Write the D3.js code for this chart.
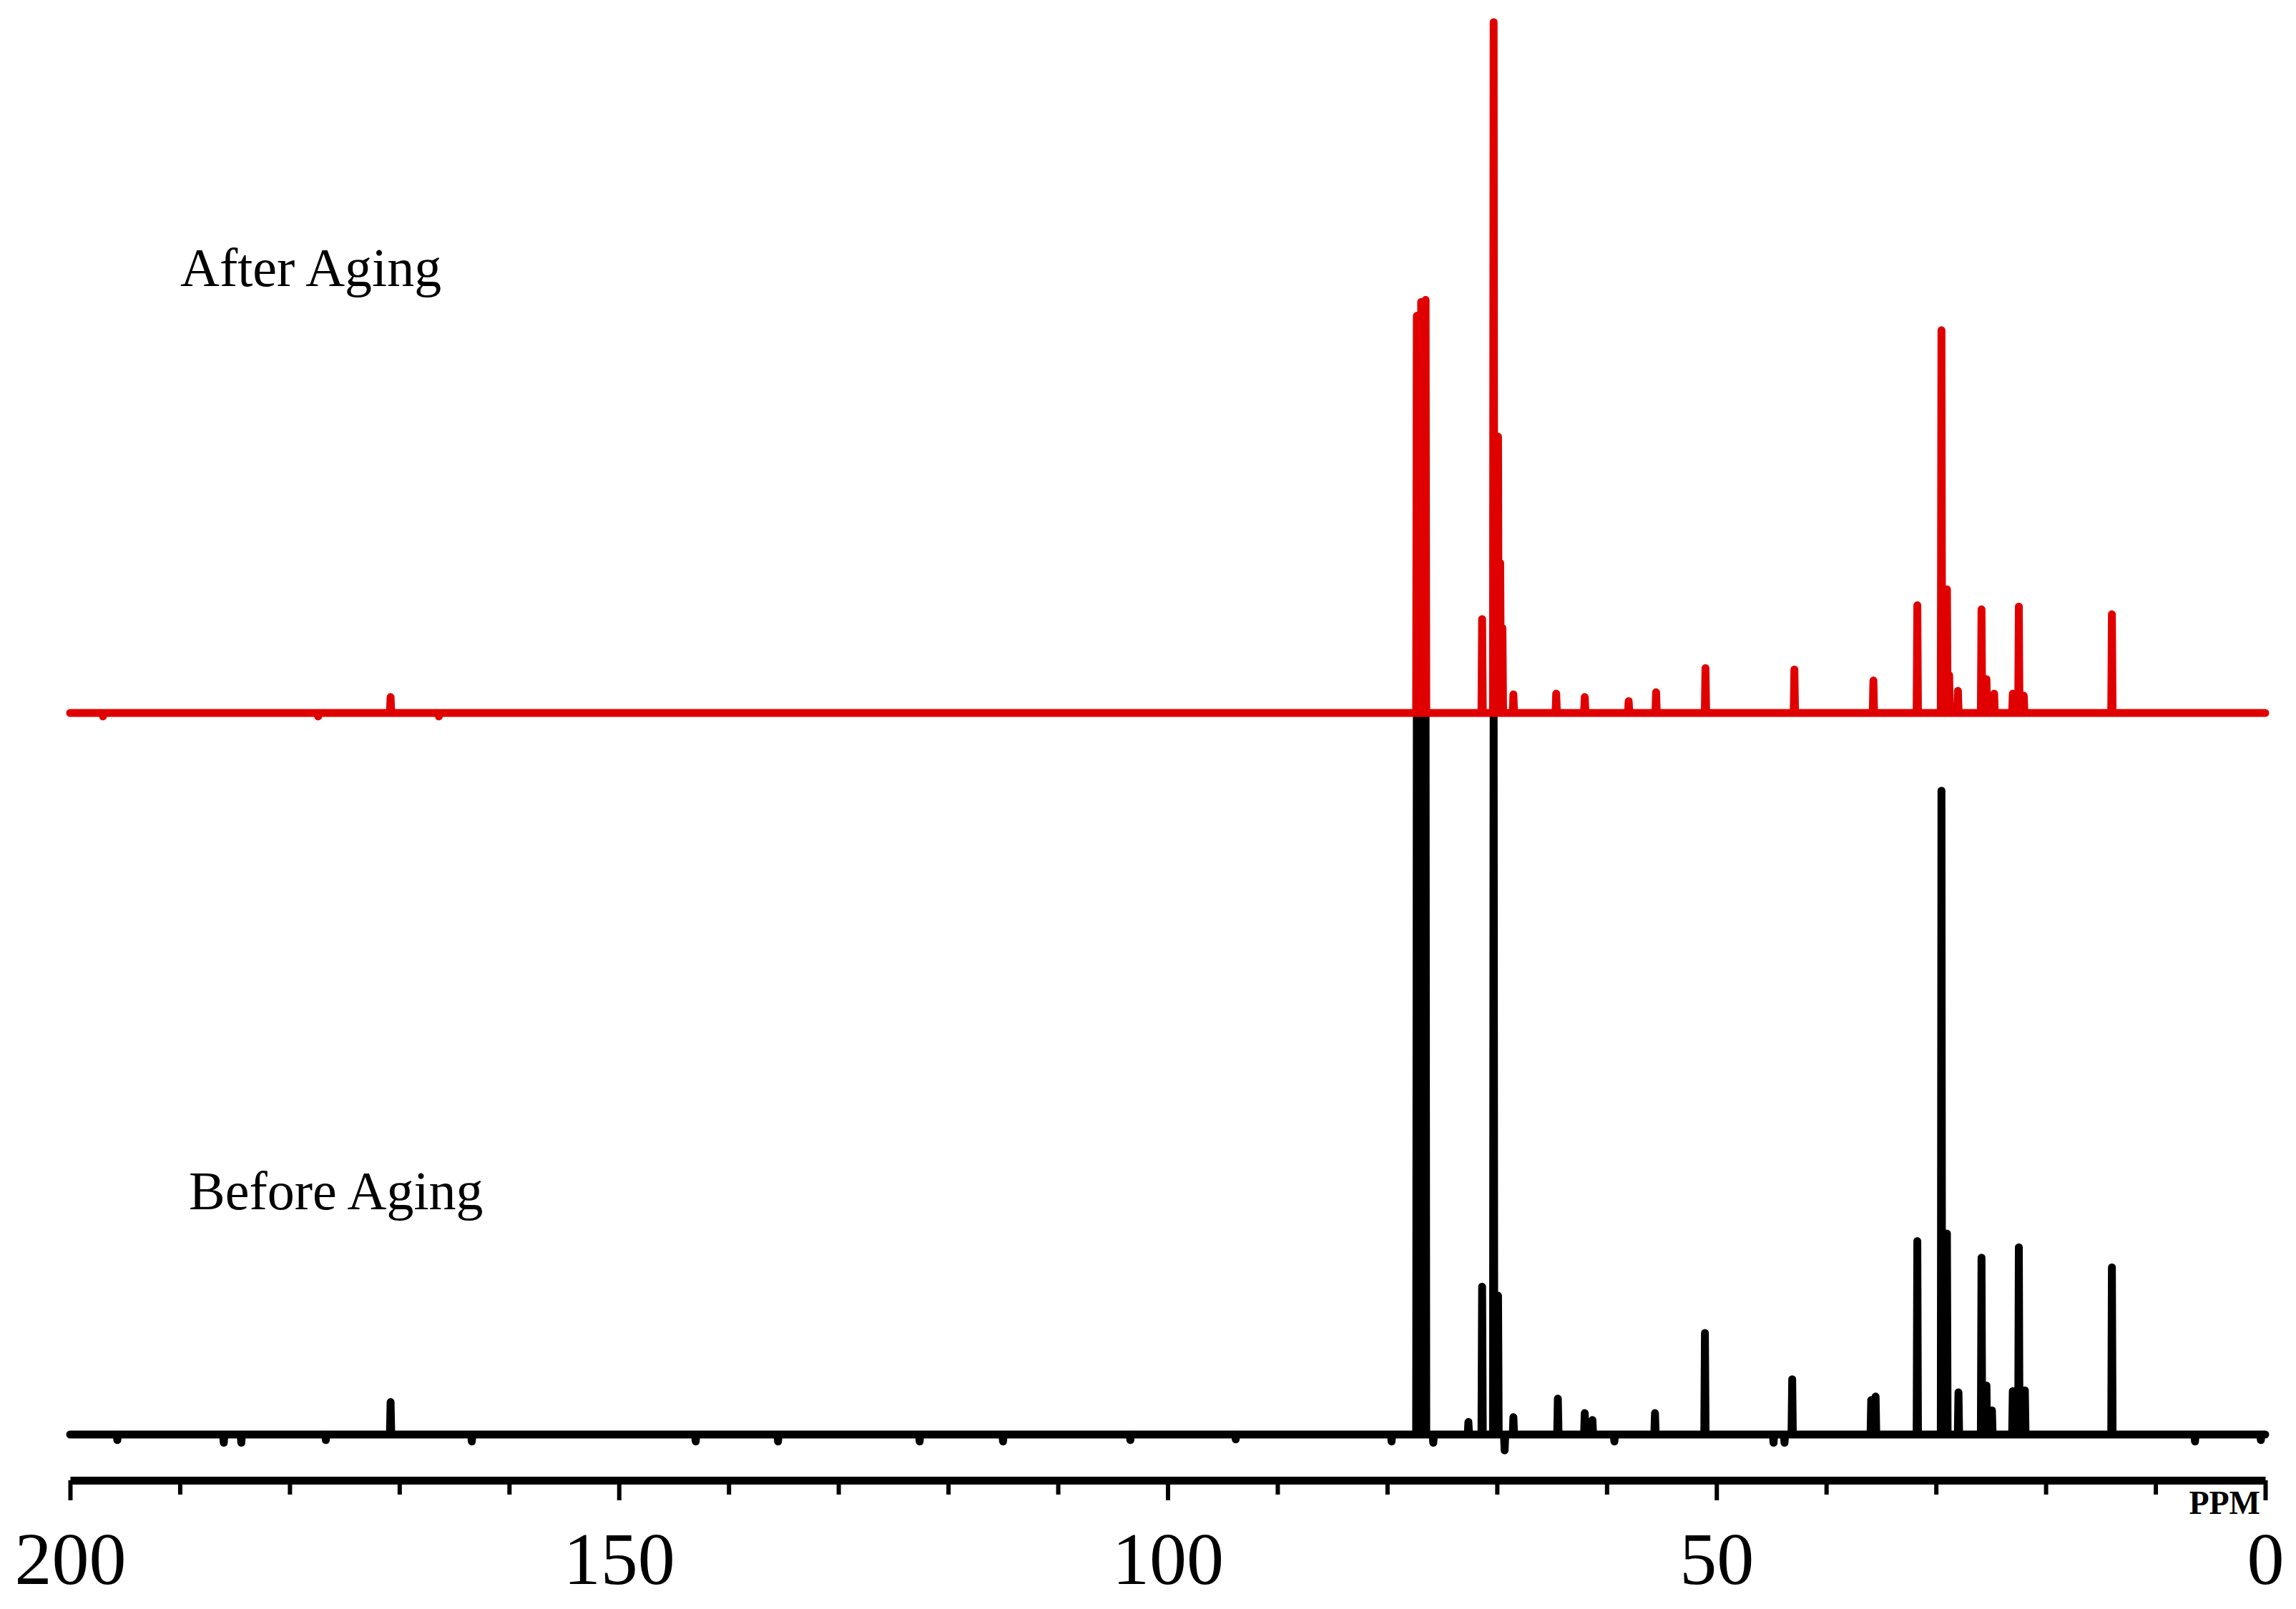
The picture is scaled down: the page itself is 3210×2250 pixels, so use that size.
<!DOCTYPE html>
<html>
<head>
<meta charset="utf-8">
<script src="https://cdn.jsdelivr.net/npm/d3@7"></script>
<style>
  html, body { margin: 0; padding: 0; background: #fff; }
  svg { display: block; }
  text { font-family: "Liberation Serif", "Times New Roman", serif; fill: #000; }
</style>
</head>
<body>
<div id="chart"></div>
<script>
// 13C spectra, chemical shift (ppm) and peak intensity (main red peak = 100)
// small negative values are baseline dips
const beforePpm = [195.7, 186.0, 184.4, 176.7, 170.8, 163.4, 143.0, 135.5, 122.6, 115.0,
    103.4, 93.8, 79.6, 77.3, 76.9, 76.5, 75.8, 72.6, 71.35, 70.3,
    69.9, 69.3, 68.5, 64.45, 62.0, 61.3, 59.3, 55.6, 51.05, 44.8,
    43.8, 43.1, 35.9, 35.5, 31.7, 29.5, 29.0, 27.95, 25.85, 25.4,
    24.9, 23.0, 22.45, 21.9, 13.97, 6.4, 0.4];
const beforeIntensity = [-0.8, -1.2, -1.2, -0.8, 4.7, -1.0, -1.0, -1.0, -1.0, -1.0,
    -0.8, -0.7, -1.0, 104.4, 104.4, 104.4, -1.2, 1.8, 21.4, 106.7,
    20.1, -2.3, 2.5, 5.2, 3.1, 2.1, -1.0, 3.1, 14.7, -1.2,
    -1.2, 8.0, 5.0, 5.5, 28.0, 93.2, 29.1, 6.1, 25.6, 7.1,
    3.5, 6.3, 27.1, 6.4, 24.2, -1.0, -0.8];

const afterPpm = [197.0, 177.4, 170.8, 166.4, 77.3, 76.9, 76.5, 71.35, 70.3, 69.9,
    69.7, 69.5, 68.5, 64.6, 62.0, 58.0, 55.5, 51.0, 42.9, 35.7,
    31.7, 29.5, 29.0, 28.8, 28.0, 25.85, 25.4, 24.7, 23.0, 22.45,
    22.0, 13.97];
const afterIntensity = [-0.5, -0.5, 2.3, -0.5, 57.5, 59.5, 59.8, 13.6, 100, 40,
    21.7, 12.3, 2.7, 2.8, 2.3, 1.7, 3.0, 6.5, 6.3, 4.7,
    15.6, 55.4, 17.9, 5.5, 3.2, 15.0, 4.9, 2.8, 2.8, 15.4,
    2.5, 14.3];

const majorTicks = [200, 150, 100, 50, 0];
const minorTicks = [190, 180, 170, 160, 140, 130, 120, 110, 90, 80, 70, 60, 40, 30, 20, 10];
const afterOffset = 104.45;

const width = 3210, height = 2250;

const svg = d3.select("#chart").append("svg")
    .attr("width", width)
    .attr("height", height);

svg.append("rect").attr("width", width).attr("height", height).attr("fill", "#fff");

const x = d3.scaleLinear().domain([200, 0]).range([98, 3167]);
const y = d3.scaleLinear().domain([0, 100]).range([2006, 1040]);

// turn the peak list into a stick path along the baseline
function spectrum(ppm, intensity, offset) {
    const hw = 0.06;
    const pts = [{p: 200, v: 0}];
    ppm.forEach((p, i) => {
        pts.push({p: p + hw, v: 0});
        pts.push({p: p, v: intensity[i]});
        pts.push({p: p - hw, v: 0});
    });
    pts.push({p: 0, v: 0});
    return pts.map(d => ({p: d.p, v: d.v + offset}));
}

const line = d3.line()
    .x(d => x(d.p))
    .y(d => y(d.v));

svg.append("path")
    .datum(spectrum(beforePpm, beforeIntensity, 0))
    .attr("d", line)
    .attr("fill", "none")
    .attr("stroke", "#000")
    .attr("stroke-width", 11)
    .attr("stroke-linejoin", "round")
    .attr("stroke-linecap", "round");

svg.append("path")
    .datum(spectrum(afterPpm, afterIntensity, afterOffset))
    .attr("d", line)
    .attr("fill", "none")
    .attr("stroke", "#e00000")
    .attr("stroke-width", 11)
    .attr("stroke-linejoin", "round")
    .attr("stroke-linecap", "round");

// axis
const axis = svg.append("g")
    .attr("class", "x-axis")
    .attr("transform", "translate(0,2070)")
    .call(d3.axisBottom(x)
        .tickValues(majorTicks.concat(minorTicks))
        .tickSize(20)
        .tickSizeOuter(0)
        .tickFormat(d => majorTicks.includes(d) ? d : ""));

axis.select(".domain")
    .attr("stroke", "#000")
    .attr("stroke-width", 11);

axis.selectAll(".tick line")
    .attr("stroke", "#000")
    .attr("stroke-width", 6)
    .attr("y2", d => majorTicks.includes(d) ? 28 : 20);

axis.selectAll(".tick text")
    .attr("y", 145)
    .attr("dy", 0)
    .style("font-family", "'Liberation Serif', 'Times New Roman', serif")
    .style("font-size", "104px")
    .attr("fill", "#000");

svg.append("text")
    .attr("x", 3160)
    .attr("y", 2117)
    .attr("text-anchor", "end")
    .style("font-size", "46px")
    .style("font-weight", "bold")
    .text("PPM");

// series labels
svg.append("text")
    .attr("x", 252)
    .attr("y", 400)
    .style("font-size", "76px")
    .text("After Aging");

svg.append("text")
    .attr("x", 264)
    .attr("y", 1691)
    .style("font-size", "76px")
    .text("Before Aging");
</script>
</body>
</html>
